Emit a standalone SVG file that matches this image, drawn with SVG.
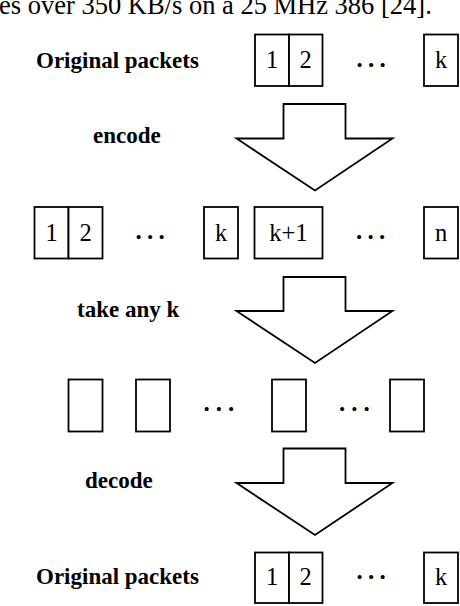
<svg xmlns="http://www.w3.org/2000/svg" width="460" height="606" viewBox="0 0 460 606">
<style>
.box{fill:#fff;stroke:#000;stroke-width:1.8}
.arr{fill:#fff;stroke:#000;stroke-width:1.8;stroke-linejoin:miter}
.lbl{font-family:"Liberation Serif","Times New Roman",serif;font-weight:bold;font-size:23px;fill:#000}
.num{font-family:"Liberation Serif","Times New Roman",serif;font-size:24.5px;fill:#000;text-anchor:middle}
.dots{font-family:"Liberation Serif","Times New Roman",serif;font-weight:bold;font-size:25px;fill:#000;word-spacing:-1px}
.top{font-family:"Liberation Serif","Times New Roman",serif;font-size:26.5px;fill:#000}
</style>
<rect width="460" height="606" fill="#fff"/>
<text class="top" x="-1" y="14">es over 350 KB/s on a 25 MHz 386 [24].</text>

<g id="row1">
<text class="lbl" x="36" y="68">Original packets</text>
<rect class="box" x="255" y="34.5" width="34" height="51.5"/><text class="num" x="272" y="68">1</text>
<rect class="box" x="289" y="34.5" width="33.5" height="51.5"/><text class="num" x="305.5" y="68">2</text>
<text class="dots" x="356.5" y="67">. . .</text>
<rect class="box" x="424" y="34.5" width="34" height="51.5"/><text class="num" x="441" y="68">k</text>
</g>

<g id="connectors">
<g id="arrow-encode">
<polygon class="arr" points="283.5,104 345.5,104 345.5,138.5 392.5,138.5 315,190.5 236.5,138.5 283.5,138.5"/>
<text class="lbl" x="93" y="143">encode</text>
</g>
<g id="arrow-take">
<polygon class="arr" points="283.5,277 345.5,277 345.5,311 392.5,311 315,363 236.5,311 283.5,311"/>
<text class="lbl" x="77" y="317">take any k</text>
</g>
<g id="arrow-decode">
<polygon class="arr" points="283.5,448.5 345.5,448.5 345.5,483 392.5,483 315,535 236.5,483 283.5,483"/>
<text class="lbl" x="85" y="488">decode</text>
</g>
</g>

<g id="row2">
<rect class="box" x="34.5" y="207" width="34" height="51.5"/><text class="num" x="51.5" y="240.5">1</text>
<rect class="box" x="68.5" y="207" width="34" height="51.5"/><text class="num" x="85.5" y="240.5">2</text>
<text class="dots" x="135.5" y="239">. . .</text>
<rect class="box" x="204" y="207" width="34" height="51.5"/><text class="num" x="221" y="240.5">k</text>
<rect class="box" x="254.5" y="207" width="68" height="51.5"/><text class="num" x="288.5" y="240.5">k+1</text>
<text class="dots" x="356" y="239">. . .</text>
<rect class="box" x="424" y="207" width="34" height="51.5"/><text class="num" x="441" y="240.5">n</text>
</g>

<g id="row3">
<rect class="box" x="68.5" y="379.5" width="34" height="52"/>
<rect class="box" x="136" y="379.5" width="34" height="52"/>
<text class="dots" x="203.5" y="411" style="word-spacing:-0.2px">. . .</text>
<rect class="box" x="272" y="379.5" width="34" height="52"/>
<text class="dots" x="339" y="411" style="word-spacing:-0.2px">. . .</text>
<rect class="box" x="390" y="379.5" width="34" height="52"/>
</g>

<g id="row4">
<text class="lbl" x="36" y="584">Original packets</text>
<rect class="box" x="255" y="552.5" width="34" height="50.5"/><text class="num" x="272" y="584.5">1</text>
<rect class="box" x="289" y="552.5" width="33.5" height="50.5"/><text class="num" x="305.5" y="584.5">2</text>
<text class="dots" x="356.5" y="578.5">. . .</text>
<rect class="box" x="424" y="552.5" width="34" height="50.5"/><text class="num" x="441" y="584.5">k</text>
</g>
</svg>
